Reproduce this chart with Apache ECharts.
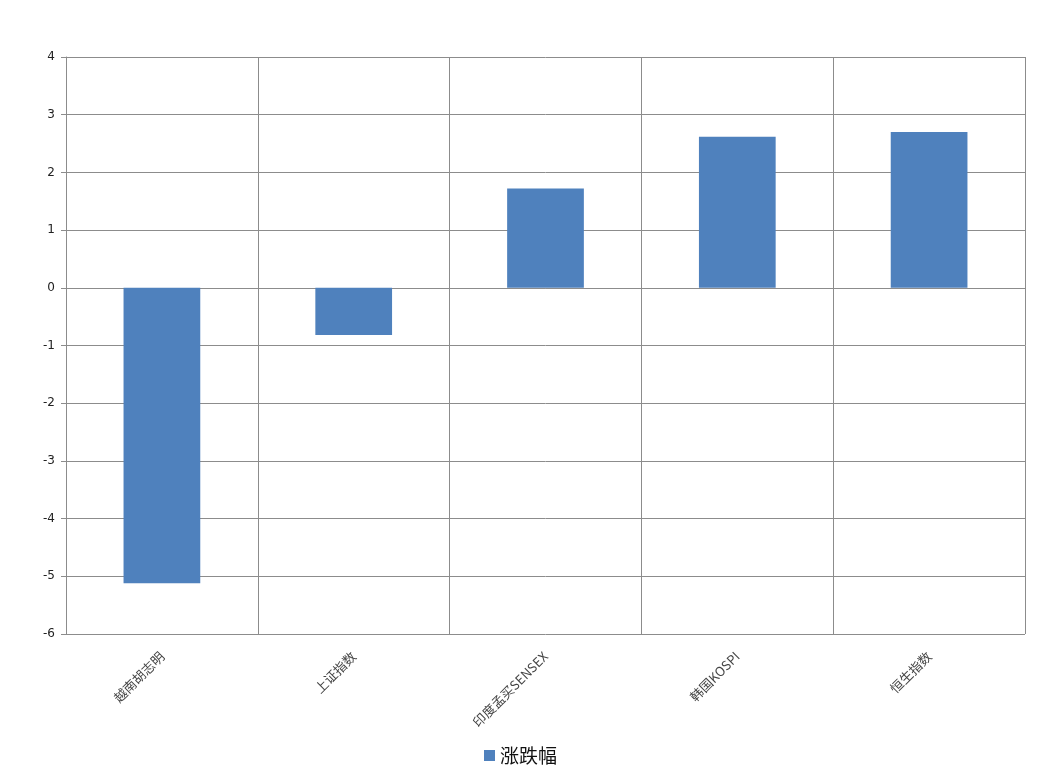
<!DOCTYPE html>
<html>
<head>
<meta charset="utf-8">
<script src="https://cdn.jsdelivr.net/npm/echarts@6/dist/echarts.min.js"></script>
<style>html,body{margin:0;padding:0;background:#fff;}#c{width:1041px;height:782px;}</style>
</head>
<body>
<div id="c"></div>
<script>
var categories = ['越南胡志明', '上证指数', '印度孟买SENSEX', '韩国KOSPI', '恒生指数'];
var seriesName = '涨跌幅';
var values = [-5.12, -0.82, 1.72, 2.62, 2.70];
var yMin = -6, yMax = 4, yStep = 1;

var chart = echarts.init(document.getElementById('c'), null, {renderer: 'canvas'});
var gridColor = '#8c8c8c';
chart.setOption({
  animation: false,
  backgroundColor: '#ffffff',
  textStyle: {fontFamily: '"Noto Sans CJK SC", "DejaVu Sans", sans-serif'},
  grid: {left: 66, right: 16, top: 57, bottom: 148, containLabel: false},
  legend: {
    bottom: 12, left: 'center',
    itemWidth: 11, itemHeight: 11, itemGap: 6,
    icon: 'rect',
    textStyle: {fontSize: 19, color: '#111', fontFamily: '"Noto Sans CJK SC", sans-serif'},
    data: [seriesName]
  },
  xAxis: {
    type: 'category',
    data: categories,
    boundaryGap: true,
    axisLine: {show: true, lineStyle: {color: gridColor, width: 1}},
    axisTick: {show: false},
    splitLine: {show: true, interval: 0, lineStyle: {color: gridColor, width: 1}},
    axisLabel: {
      interval: 0, rotate: 45, fontSize: 13, color: '#444', margin: 20,
      fontFamily: '"Noto Sans CJK SC", sans-serif'
    }
  },
  yAxis: {
    type: 'value',
    min: yMin, max: yMax, interval: yStep,
    axisLine: {show: true, lineStyle: {color: gridColor, width: 1}},
    axisTick: {show: true, length: 5, lineStyle: {color: gridColor}},
    splitLine: {show: true, lineStyle: {color: gridColor, width: 1}},
    axisLabel: {fontSize: 12, color: '#222', margin: 11, fontFamily: '"DejaVu Sans", sans-serif'}
  },
  series: [{
    name: seriesName,
    type: 'bar',
    data: values,
    barWidth: '40%',
    itemStyle: {color: '#4f81bd'}
  }]
});
</script>
</body>
</html>
